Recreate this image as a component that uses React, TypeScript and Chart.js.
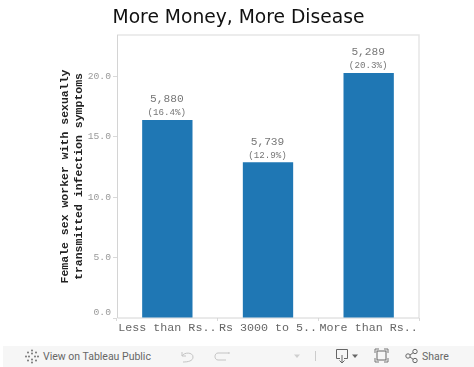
import React, { useEffect, useRef } from "react";
import { Chart, registerables } from "chart.js";

Chart.register(...registerables);

const categories = ["Less than Rs..", "Rs 3000 to 5..", "More than Rs.."];
const percentValues = [16.4, 12.9, 20.3];
const sampleCounts = ["5,880", "5,739", "5,289"];
const percentLabels = ["(16.4%)", "(12.9%)", "(20.3%)"];
const yTickValues = [0, 5, 10, 15, 20];
const yAxisTitle = ["Female sex worker with sexually", "transmitted infection symptoms"];
const chartTitle = "More Money, More Disease";

const mono = '"Liberation Mono", monospace';

const framePlugin = {
  id: "frame",
  beforeDatasetsDraw(chart: any) {
    const { ctx, chartArea: a } = chart;
    ctx.save();
    ctx.strokeStyle = "#e6e6e6";
    ctx.lineWidth = 1.5;
    ctx.beginPath();
    ctx.moveTo(a.left, a.top);
    ctx.lineTo(a.right, a.top);
    ctx.lineTo(a.right, a.bottom);
    ctx.stroke();
    ctx.strokeStyle = "#d4d4d4";
    ctx.lineWidth = 1;
    ctx.beginPath();
    ctx.moveTo(a.left + 0.5, a.top);
    ctx.lineTo(a.left + 0.5, a.bottom);
    ctx.lineTo(a.right, a.bottom);
    ctx.stroke();
    ctx.restore();
  },
};

const barLabelPlugin = {
  id: "barLabels",
  afterDatasetsDraw(chart: any) {
    const { ctx } = chart;
    const bars = chart.getDatasetMeta(0).data;
    ctx.save();
    ctx.textAlign = "center";
    ctx.textBaseline = "middle";
    ctx.fillStyle = "#777777";
    bars.forEach((bar: any, i: number) => {
      ctx.font = `11.2px ${mono}`;
      ctx.fillText(sampleCounts[i], bar.x - 0.5, bar.y - 20.5);
      ctx.font = `9.2px ${mono}`;
      ctx.fillText(percentLabels[i], bar.x - 0.5, bar.y - 7);
    });
    ctx.restore();
  },
};

const darkIcon = "#666666";

function Toolbar() {
  const dots: [number, number][] = [
    [0, -6], [0, -3], [0, 3], [0, 6], [-6, 0], [-3, 0], [3, 0], [6, 0],
    [-4, -4], [4, -4], [-4, 4], [4, 4],
  ];
  return (
    <div style={{ position: "absolute", left: 3, top: 346, width: 471, height: 21, background: "#f6f6f6" }}>
      <svg width="471" height="21" style={{ position: "absolute", left: 0, top: 0 }}>
        <g transform="translate(29,10.5)" fill="#777777">
          {dots.map(([x, y], i) => <circle key={i} cx={x} cy={y} r={1} />)}
        </g>
        <g fill="none" stroke="#c4c4c4" strokeWidth="1">
          <path d="M179 6 v4 h4 M179 10 C181 6 190 6 190 11 C190 15 185 16 180 16" />
          <path d="M226 6 v2 M226 7 H215 C211 7 211 14 215 14 H223" />
        </g>
        <path d="M291 8.5 h6 l-3 3.5 z" fill="#cfcfcf" />
        <path d="M312.5 5 v10" stroke="#cccccc" />
        <g fill="none" stroke={darkIcon} strokeWidth="1">
          <path d="M337 12.5 h-3.5 v-9 h11 v9 h-3.5 M339 9 v8 M336.5 14.5 l2.5 2.5 l2.5 -2.5" />
          <rect x="374" y="5" width="9" height="9" />
          <path d="M372 7 v-4 h4 M381 3 h4 v4 M385 12 v4 h-4 M376 16 h-4 v-4" stroke="#777777" />
          <circle cx="405" cy="10" r="2.2" />
          <circle cx="412" cy="5.5" r="2.2" />
          <circle cx="412" cy="14.5" r="2.2" />
          <path d="M407 9 l3.2 -2.3 M407 11 l3.2 2.3" />
        </g>
        <path d="M349 8.5 h6 l-3 3.5 z" fill={darkIcon} />
      </svg>
      <span style={{ position: "absolute", left: 40, top: 3, font: '10.5px Roboto, sans-serif', color: "#666666", lineHeight: "15px", whiteSpace: "nowrap" }}>
        View on Tableau Public
      </span>
      <span style={{ position: "absolute", left: 419, top: 3, font: '10.5px Roboto, sans-serif', color: "#666666", lineHeight: "15px" }}>
        Share
      </span>
    </div>
  );
}

export default function App() {
  const ref = useRef<HTMLCanvasElement>(null);

  useEffect(() => {
    document.body.style.margin = "0";
    const chart = new Chart(ref.current as HTMLCanvasElement, {
      type: "bar",
      data: {
        labels: categories,
        datasets: [
          {
            data: percentValues,
            backgroundColor: "#1f77b4",
            categoryPercentage: 1,
            barPercentage: 0.5,
          },
        ],
      },
      plugins: [framePlugin, barLabelPlugin],
      options: {
        animation: false,
        responsive: false,
        layout: { padding: { left: 58, right: 55, top: 0, bottom: 20 } },
        plugins: {
          legend: { display: false },
          tooltip: { enabled: false },
          title: {
            display: true,
            text: chartTitle,
            color: "#111111",
            font: { family: '"DejaVu Sans", sans-serif', size: 18.7, weight: "normal", lineHeight: 1.2 },
            padding: { top: 6.5, bottom: 6.06 },
          },
        },
        scales: {
          x: {
            afterFit(scale: any) {
              scale.height = 29;
            },
            border: { display: false },
            grid: { drawOnChartArea: false, drawTicks: true, tickLength: 3, color: "#d9d9d9" },
            ticks: {
              autoSkip: false,
              maxRotation: 0,
              padding: 0,
              color: "#666666",
              font: { family: mono, size: 11.7 },
            },
          },
          y: {
            min: 0,
            max: 23.44,
            afterFit(scale: any) {
              scale.width = 59;
            },
            afterBuildTicks(scale: any) {
              scale.ticks = yTickValues.map((value) => ({ value }));
            },
            border: { display: false },
            grid: { drawOnChartArea: false, drawTicks: true, tickLength: 4, color: "#d9d9d9" },
            title: {
              display: true,
              text: yAxisTitle,
              color: "#222222",
              padding: 0,
              font: { family: mono, size: 11.5, weight: "bold", lineHeight: 1.2 },
            },
            ticks: {
              padding: 2,
              color: "#999999",
              font: { family: mono, size: 9.7 },
              callback(value: any) {
                const label = Number(value).toFixed(1);
                return Number(value) === 0 ? [label, ""] : label;
              },
            },
          },
        },
      },
    } as any);
    return () => chart.destroy();
  }, []);

  return (
    <div style={{ position: "absolute", left: 0, top: 0, width: 474, height: 367, overflow: "hidden", background: "#ffffff" }}>
      <canvas ref={ref} width={474} height={367} style={{ display: "block" }} />
      <Toolbar />
    </div>
  );
}
